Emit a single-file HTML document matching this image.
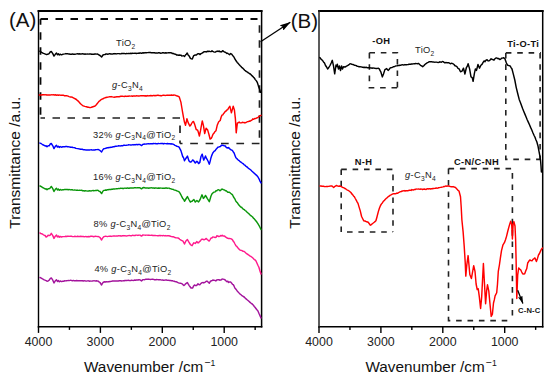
<!DOCTYPE html>
<html><head><meta charset="utf-8"><style>
html,body{margin:0;padding:0;background:#fff;}
#c{position:relative;width:550px;height:379px;overflow:hidden;background:#fff;}
svg{position:absolute;left:0;top:0;}
text{font-family:"Liberation Sans", sans-serif;}
</style></head><body><div id="c">
<svg width="550" height="379" viewBox="0 0 550 379">
<defs>
<marker id="ah" viewBox="0 0 11 6.4" refX="10.6" refY="3.2" markerWidth="11" markerHeight="6.4" markerUnits="userSpaceOnUse" orient="auto">
<path d="M0,0 L11,3.2 L0,6.4 L1.8,3.2 z" fill="#000"/>
</marker>
<marker id="ah2" viewBox="0 0 8 4.8" refX="7.6" refY="2.4" markerWidth="8" markerHeight="4.8" markerUnits="userSpaceOnUse" orient="auto">
<path d="M0,0 L8,2.4 L0,4.8 L1.2,2.4 z" fill="#000"/>
</marker>
</defs>
<!-- frames -->
<g fill="none" stroke="#000" stroke-linecap="square">
<path d="M38.5,11 H261.6" stroke-width="1.9"/>
<path d="M38.5,326.7 H261.6" stroke-width="1.5"/>
<path d="M38.5,11 V326.7" stroke-width="1.4"/>
<path d="M261.6,11 V326.7" stroke-width="1.5"/>
<path d="M319,11 H542.7" stroke-width="1.9"/>
<path d="M319,326.7 H542.7" stroke-width="1.5"/>
<path d="M319,11 V326.7" stroke-width="1.5" stroke="#262626"/>
<path d="M542.7,11 V326.7" stroke-width="1.5"/>
</g>
<g stroke="#000" stroke-width="1.4">
<line x1="38.50" y1="326.7" x2="38.50" y2="332.9" /><line x1="100.40" y1="326.7" x2="100.40" y2="332.9" /><line x1="162.30" y1="326.7" x2="162.30" y2="332.9" /><line x1="224.20" y1="326.7" x2="224.20" y2="332.9" /><line x1="69.45" y1="326.7" x2="69.45" y2="329.9" /><line x1="131.35" y1="326.7" x2="131.35" y2="329.9" /><line x1="193.25" y1="326.7" x2="193.25" y2="329.9" /><line x1="255.15" y1="326.7" x2="255.15" y2="329.9" />
<line x1="319.00" y1="326.7" x2="319.00" y2="332.9" /><line x1="380.90" y1="326.7" x2="380.90" y2="332.9" /><line x1="442.80" y1="326.7" x2="442.80" y2="332.9" /><line x1="504.70" y1="326.7" x2="504.70" y2="332.9" /><line x1="349.95" y1="326.7" x2="349.95" y2="329.9" /><line x1="411.85" y1="326.7" x2="411.85" y2="329.9" /><line x1="473.75" y1="326.7" x2="473.75" y2="329.9" /><line x1="535.65" y1="326.7" x2="535.65" y2="329.9" />
</g>
<!-- dashed boxes -->
<g fill="none" stroke="#222" stroke-width="1.7" stroke-dasharray="7.5 7.5">
<path d="M40.5,19 H257.5" stroke="#0a0a0a" stroke-width="1.9"/>
<path d="M259.5,19 V143.5" stroke-dashoffset="8.7"/>
<path d="M259.5,143.5 H180" stroke-dasharray="7.7 7.7"/>
<path d="M180,143.5 V118" stroke-dashoffset="4.6"/>
<path d="M180,118 H40.5"/>
<path d="M40.5,118 V19" stroke-dashoffset="11.8" stroke="#0a0a0a" stroke-width="1.8"/>
</g>
<g fill="none" stroke="#222" stroke-width="1.6" stroke-dasharray="5.6 5.8">
<path d="M369.4,52.8 H397.4 V87.7"/><path d="M369.4,52.8 V87.7 H397.4"/>
<path d="M505.8,52.9 H540.1 V159.4"/><path d="M505.8,52.9 V159.4 H540.1"/>
<path d="M341.2,169.4 H393 V232"/><path d="M341.2,169.4 V232 H393"/>
<path d="M448.5,168.6 H512.4 V320.6"/><path d="M448.5,168.6 V320.6 H512.4"/>
</g>
<!-- curves -->
<g fill="none" stroke-width="1.45" stroke-linejoin="round" stroke-linecap="round">
<polyline stroke="#000" points="39.9,51.2 40.8,51.8 41.7,52.4 42.5,52.8 43.4,53.4 44.2,53.6 45.4,54.1 46.6,54.6 47.4,54.3 48.3,54.1 49.1,53.6 50.2,52.0 51.3,51.5 52.8,53.6 54.0,56.1 55.3,54.3 56.5,53.0 57.4,54.8 58.4,53.8 59.3,55.0 60.2,54.2 61.5,54.8 62.7,54.3 63.7,54.1 64.8,53.9 65.8,53.6 66.6,53.8 67.5,53.7 68.3,53.9 69.2,53.9 70.0,54.2 70.8,54.3 71.7,54.3 72.5,53.9 73.3,54.3 74.2,54.3 75.0,54.2 75.8,54.1 76.7,53.9 77.5,53.8 78.3,54.0 79.2,53.8 80.0,54.0 80.8,53.9 81.7,53.9 82.5,53.8 83.3,54.0 84.2,54.0 85.0,54.2 85.8,54.0 86.7,54.1 87.5,54.0 88.3,54.1 89.2,54.0 90.0,54.0 90.8,53.9 91.6,54.3 92.4,54.3 93.2,54.2 94.0,54.2 94.8,54.0 95.6,54.0 96.4,54.1 97.2,54.0 98.0,54.2 99.0,55.0 100.0,55.5 101.6,57.0 103.0,55.0 104.0,54.6 105.0,54.5 106.0,54.0 106.8,53.9 107.6,54.2 108.5,54.1 109.3,53.7 110.1,53.8 110.9,54.1 111.7,53.9 112.5,54.1 113.4,53.8 114.2,53.6 115.0,53.8 115.8,53.8 116.7,53.9 117.5,53.6 118.3,53.6 119.2,53.6 120.0,53.9 120.8,53.8 121.7,53.5 122.5,53.5 123.3,53.5 124.2,53.4 125.0,53.6 125.8,53.7 126.7,53.4 127.5,53.6 128.3,53.5 129.2,53.4 130.0,53.6 130.8,53.3 131.7,53.5 132.5,53.3 133.3,53.4 134.2,53.3 135.0,53.4 135.8,53.2 136.6,53.5 137.4,53.4 138.2,53.1 139.1,53.3 139.9,53.0 140.7,53.0 141.5,53.2 142.3,53.0 143.1,52.7 143.9,53.1 144.8,52.7 145.6,52.6 146.4,52.8 147.2,52.6 148.0,52.6 148.8,52.5 149.6,52.5 150.4,52.5 151.2,52.7 152.0,52.6 152.8,52.8 153.6,52.7 154.4,52.8 155.2,53.0 156.0,52.9 156.8,52.9 157.6,53.1 158.4,52.8 159.2,52.8 160.0,53.0 160.8,53.2 161.7,53.1 162.5,52.8 163.3,52.8 164.2,53.0 165.0,53.0 165.8,52.7 166.7,53.0 167.5,52.9 168.3,52.8 169.2,52.7 170.0,52.7 170.8,52.7 171.6,52.9 172.4,53.6 173.2,53.5 174.0,53.8 174.9,54.2 175.8,54.3 176.7,55.1 177.6,55.0 178.4,55.2 179.2,55.0 180.0,55.3 180.9,55.1 181.8,56.0 182.7,55.9 183.6,55.7 184.6,56.5 185.5,55.0 186.3,54.2 187.2,53.0 188.1,54.9 189.1,55.9 190.4,58.4 191.4,58.9 192.3,59.1 193.5,55.9 194.4,55.2 195.4,55.0 196.4,55.0 197.4,54.0 198.2,53.8 199.1,53.8 199.9,54.6 201.0,53.6 202.0,53.1 203.1,52.5 203.9,51.8 204.8,51.8 205.6,51.8 206.5,51.9 207.3,51.2 208.2,51.5 209.1,51.2 210.1,51.6 211.1,51.6 212.0,50.8 212.8,51.4 213.7,51.9 214.5,52.1 215.4,52.1 216.4,51.4 217.4,51.1 218.3,51.5 219.2,50.9 220.0,51.9 220.9,51.6 221.7,51.9 222.6,50.7 223.4,51.2 224.3,51.9 225.1,52.2 226.0,52.7 226.8,53.4 227.7,53.3 228.5,54.0 229.6,54.7 230.6,53.6 231.7,54.2 232.6,55.4 233.6,56.5 234.5,58.1 235.3,59.7 236.2,61.0 237.2,62.4 238.3,63.6 239.3,64.8 240.2,65.8 241.0,66.5 241.9,67.6 242.8,68.2 243.8,69.2 244.7,70.2 245.6,70.9 246.5,71.7 247.5,72.1 248.4,72.9 249.4,73.5 250.3,74.0 251.1,74.8 251.9,75.7 252.7,76.3 253.5,77.2 254.3,78.0 255.3,79.6 256.4,80.9 257.4,82.7 258.4,85.9 259.5,89.0 260.6,92.2"/>
<polyline stroke="#ff0000" points="39.3,94.9 40.1,94.9 40.9,95.0 41.7,95.0 42.6,94.7 43.4,94.7 44.2,94.8 45.0,94.9 45.9,94.8 46.7,95.0 47.6,95.0 48.5,94.9 49.4,94.9 50.2,95.0 51.1,94.9 51.9,94.8 52.7,94.9 53.5,94.8 54.4,95.1 55.2,94.8 56.0,95.0 56.8,95.2 57.6,94.9 58.4,95.2 59.2,95.0 60.0,95.1 60.8,95.3 61.6,95.2 62.5,95.1 63.3,95.2 64.2,95.7 65.0,95.6 66.0,95.8 67.1,95.8 68.1,96.2 69.1,96.6 70.0,96.9 71.0,96.9 72.2,97.2 73.3,97.8 74.4,98.4 75.5,99.0 76.4,99.5 77.3,100.4 78.2,101.1 79.0,102.0 80.5,103.7 82.0,105.0 83.2,105.9 84.8,106.4 85.6,106.6 86.4,106.7 88.0,107.2 88.8,107.3 89.7,107.6 90.6,107.5 91.4,107.3 93.0,106.7 94.4,106.3 95.6,105.6 96.9,104.0 98.2,102.4 99.1,101.3 100.0,100.6 101.0,99.7 102.1,99.1 103.0,98.8 104.0,98.2 105.0,97.8 106.1,97.5 107.0,97.3 108.0,97.1 109.0,96.9 109.9,96.7 110.8,96.7 111.6,96.6 112.5,96.9 113.3,97.1 114.2,97.2 115.0,97.0 115.8,97.0 116.7,96.8 117.5,96.7 118.3,96.8 119.2,96.7 120.0,96.5 120.8,96.3 121.7,96.3 122.5,96.3 123.3,96.4 124.2,96.5 125.0,96.3 125.8,96.1 126.7,96.4 127.5,96.2 128.3,96.2 129.2,96.0 130.0,96.1 130.8,96.1 131.7,96.0 132.5,96.2 133.3,95.9 134.2,96.0 135.0,95.9 135.8,96.1 136.7,95.8 137.5,95.9 138.3,95.9 139.2,96.0 140.0,95.9 140.8,95.7 141.7,95.8 142.5,95.7 143.3,95.7 144.2,95.8 145.0,96.0 145.8,95.8 146.7,96.0 147.5,95.6 148.3,95.9 149.2,95.7 150.0,95.7 150.8,95.5 151.7,95.8 152.5,95.8 153.3,95.4 154.2,95.5 155.0,95.7 155.8,95.5 156.7,95.5 157.5,95.3 158.3,95.3 159.2,95.6 160.0,95.5 160.8,95.7 161.6,95.7 162.4,95.4 163.2,95.2 164.0,95.3 164.8,95.4 165.6,95.4 166.4,95.3 167.2,95.1 168.0,95.2 168.9,95.2 169.7,95.1 170.6,95.2 171.4,95.0 172.3,95.3 173.1,95.2 174.0,95.0 174.8,95.1 175.7,95.4 176.5,95.9 177.3,96.0 178.2,96.3 179.2,96.8 180.1,99.6 180.9,102.1 181.8,107.5 182.7,112.8 183.6,117.8 184.5,122.3 185.5,125.3 186.9,118.8 188.3,122.9 189.9,126.1 190.8,125.1 191.6,123.5 192.5,122.0 193.4,121.4 194.6,124.1 196.2,129.5 197.6,130.1 198.5,132.7 199.4,136.0 200.5,130.7 201.4,125.5 202.3,120.9 203.5,125.9 204.7,133.6 206.1,128.3 207.7,130.1 208.9,134.2 210.1,139.0 211.2,138.4 212.1,136.6 213.0,134.2 213.9,133.3 214.8,131.8 216.0,130.7 217.2,125.3 218.7,121.7 220.2,120.5 221.1,117.3 221.9,115.2 222.8,114.8 223.7,113.4 224.5,112.5 225.3,111.4 226.1,111.0 226.9,109.9 227.7,109.7 228.5,108.1 229.9,106.3 231.4,112.8 232.3,109.6 233.2,106.3 234.4,109.9 235.4,118.8 236.2,132.8 237.4,122.9 238.3,122.7 239.2,122.1 240.0,122.8 240.8,122.9 241.6,122.7 242.4,122.3 243.2,122.6 244.0,122.5 244.9,122.9 245.8,122.5 246.6,122.1 247.5,121.6 248.4,121.6 249.3,121.0 250.1,121.2 251.0,120.5 251.9,120.1 252.8,118.8 253.8,119.3 254.7,118.5 255.5,118.6 256.4,118.1 257.2,117.8 258.1,117.4 258.9,116.4 259.9,115.9 261.0,115.3"/>
<polyline stroke="#0000ff" points="39.9,143.1 40.8,143.4 41.7,144.0 42.5,144.5 43.4,145.0 44.2,145.4 45.1,146.0 46.1,145.8 47.0,146.8 48.1,145.8 49.2,145.8 50.2,144.0 51.3,143.5 52.8,145.8 54.0,148.6 55.3,146.4 56.5,145.3 57.4,147.1 58.4,146.2 59.3,147.4 60.2,146.6 61.5,147.2 62.7,146.8 63.7,146.6 64.8,146.7 65.8,146.5 66.6,146.4 67.4,146.7 68.2,146.7 69.0,146.9 69.8,147.0 70.6,147.3 71.4,147.3 72.2,147.2 73.0,147.5 73.8,147.6 74.7,147.7 75.5,148.2 76.3,148.4 77.2,148.6 78.0,148.6 78.8,148.9 79.7,149.0 80.5,149.2 81.3,149.3 82.2,149.2 83.0,149.5 83.8,149.7 84.7,149.7 85.5,149.9 86.3,149.9 87.2,149.9 88.0,150.0 88.8,149.9 89.7,150.0 90.5,149.9 91.3,149.8 92.2,150.1 93.0,150.0 93.8,150.0 94.7,150.0 95.5,149.8 96.3,149.6 97.2,149.6 98.0,149.4 99.0,149.8 100.0,150.5 101.6,152.0 103.0,149.5 104.0,148.6 104.9,148.5 105.7,148.3 106.6,148.0 107.4,147.8 108.3,147.8 109.1,147.5 110.0,147.5 110.8,147.3 111.6,147.2 112.4,147.0 113.2,146.7 114.0,146.7 114.8,146.5 115.6,146.3 116.4,146.2 117.2,146.1 118.0,146.0 118.8,145.7 119.7,145.9 120.5,145.9 121.3,145.6 122.2,145.7 123.0,145.7 123.8,145.2 124.7,145.2 125.5,145.4 126.3,145.3 127.2,145.1 128.0,145.0 128.8,144.8 129.7,144.9 130.5,145.0 131.3,145.0 132.2,144.9 133.0,144.6 133.8,144.9 134.7,144.6 135.5,144.7 136.3,144.4 137.2,144.7 138.0,144.5 139.0,144.5 140.0,144.5 141.5,145.6 143.0,144.3 143.8,144.3 144.7,144.0 145.5,144.1 146.3,144.0 147.2,143.9 148.0,143.8 148.8,143.7 149.6,143.9 150.4,143.7 151.2,143.7 152.0,143.6 152.8,143.8 153.6,143.5 154.4,143.6 155.2,143.5 156.0,143.7 156.8,143.7 157.6,143.7 158.4,143.4 159.2,143.6 160.0,143.6 160.8,143.5 161.7,143.4 162.5,143.4 163.3,143.9 164.2,143.5 165.0,143.6 165.8,143.6 166.7,143.7 167.5,143.5 168.3,143.7 169.2,143.6 170.0,143.7 171.0,144.0 172.0,143.8 173.0,144.2 174.0,144.7 175.0,145.3 175.8,145.7 176.6,146.2 177.5,146.4 178.3,146.7 179.1,147.1 180.0,148.9 180.9,150.6 181.8,153.5 182.7,156.5 183.6,157.9 184.5,160.7 185.6,158.9 186.5,157.5 187.4,156.0 188.9,160.7 189.9,161.9 191.0,161.9 191.8,161.2 192.7,159.9 193.9,161.0 195.3,163.0 196.9,161.3 197.8,162.1 198.6,163.6 199.8,162.5 201.0,156.5 202.2,154.2 203.7,160.1 204.6,158.3 205.5,156.0 206.3,158.2 207.2,159.5 208.2,161.5 209.3,164.2 210.2,161.1 211.0,157.7 211.9,155.1 212.8,153.0 214.0,151.4 215.2,150.6 216.1,149.2 217.0,148.3 217.8,147.3 218.7,147.1 219.6,146.6 220.5,146.5 221.4,145.3 222.3,145.3 223.4,145.5 224.6,145.9 225.4,145.9 226.2,147.5 227.0,147.7 227.8,148.1 228.6,147.5 229.4,148.5 230.6,149.6 231.7,150.0 232.5,150.6 233.3,152.0 234.1,153.0 235.0,155.4 235.9,157.7 236.8,158.5 237.6,159.5 238.7,160.3 239.8,161.3 240.9,162.1 242.1,163.0 243.0,163.6 243.9,164.6 244.8,165.1 245.7,166.1 246.6,166.6 247.5,167.4 248.4,168.2 249.3,168.9 250.2,169.5 251.1,170.3 252.0,171.2 252.9,172.0 253.8,172.9 254.7,173.5 255.5,174.6 256.4,175.0 257.2,176.1 258.0,177.0 259.0,178.8 260.0,181.1 261.0,182.9"/>
<polyline stroke="#0a960a" points="39.9,186.0 40.8,186.3 41.7,186.9 42.5,187.5 43.4,187.9 44.2,188.3 45.1,189.0 46.1,188.8 47.0,189.7 48.1,188.8 49.2,188.7 50.2,188.0 51.3,186.4 52.8,188.7 54.0,191.5 55.3,189.3 56.5,188.2 57.4,190.0 58.4,189.1 59.3,190.3 60.2,189.5 61.5,190.1 62.7,189.7 63.7,189.7 64.8,189.4 65.8,189.4 66.6,189.5 67.4,189.5 68.2,189.7 69.1,189.5 69.9,189.6 70.7,189.9 71.5,189.8 72.3,189.8 73.1,190.1 73.9,190.1 74.7,189.9 75.6,190.1 76.4,190.3 77.2,190.1 78.0,190.3 78.8,190.4 79.7,190.3 80.5,190.4 81.3,190.3 82.2,190.5 83.0,190.9 83.8,190.7 84.7,191.0 85.5,190.8 86.3,190.9 87.2,191.1 88.0,191.0 88.8,191.0 89.7,190.7 90.5,190.9 91.3,190.9 92.2,190.6 93.0,190.5 93.8,190.8 94.7,190.6 95.5,190.4 96.3,190.5 97.2,190.3 98.0,190.4 99.0,191.1 100.0,191.5 101.6,193.6 103.0,191.0 104.0,190.4 104.9,190.3 105.7,190.0 106.6,190.2 107.4,189.7 108.3,189.7 109.1,189.4 110.0,189.5 110.8,189.5 111.6,189.2 112.4,189.2 113.2,189.0 114.0,189.0 114.8,189.0 115.6,188.9 116.4,188.8 117.2,188.7 118.0,188.6 118.8,188.5 119.6,188.6 120.4,188.3 121.2,188.4 122.0,188.3 122.8,188.5 123.6,188.5 124.4,188.1 125.2,188.1 126.0,188.3 126.8,188.2 127.6,187.9 128.4,188.2 129.2,188.2 130.0,188.0 130.8,187.9 131.7,187.9 132.5,188.0 133.3,188.1 134.2,187.8 135.0,187.8 135.8,187.7 136.7,187.9 137.5,187.8 138.3,187.7 139.2,187.8 140.0,187.8 141.5,188.8 143.0,187.7 143.8,187.5 144.7,187.7 145.5,188.1 146.3,187.9 147.2,187.9 148.0,188.0 148.8,188.2 149.6,187.9 150.4,187.9 151.2,187.8 152.0,187.9 152.8,187.9 153.6,187.9 154.4,188.2 155.2,187.9 156.0,187.9 156.8,188.1 157.6,188.2 158.4,188.0 159.3,188.2 160.1,188.0 160.9,188.1 161.7,188.1 162.5,188.3 163.3,188.2 164.1,188.1 164.9,188.2 165.7,188.0 166.5,188.0 167.3,188.3 168.1,188.1 168.9,188.1 169.8,188.5 170.6,188.6 171.5,189.1 172.4,189.3 173.3,189.4 174.1,190.0 175.0,190.1 175.8,190.4 176.6,190.7 177.5,191.1 178.3,191.4 179.1,191.9 180.0,193.2 180.9,194.8 181.8,196.7 182.7,198.4 183.6,199.3 184.5,201.3 185.9,199.0 187.4,196.6 188.9,199.5 190.4,202.1 191.2,201.4 192.1,201.3 193.0,200.3 193.9,199.5 195.3,202.1 196.9,200.5 197.8,201.3 198.6,201.9 200.1,199.5 201.1,197.0 202.0,194.8 203.4,198.4 204.4,197.3 205.5,195.4 206.3,196.6 207.2,198.4 208.2,199.9 209.3,201.7 210.2,198.7 211.0,196.0 211.9,194.0 212.8,193.0 214.0,192.1 215.2,191.9 216.0,190.7 216.8,190.9 217.6,189.9 218.8,189.8 219.9,190.7 220.7,190.4 221.5,189.2 222.3,189.1 223.4,189.7 224.6,189.9 225.4,190.7 226.2,190.8 227.0,191.5 227.8,192.3 228.6,192.2 229.4,192.2 230.6,193.3 231.7,194.2 232.5,194.8 233.3,196.5 234.1,197.8 235.0,199.2 235.9,201.3 236.8,202.2 237.6,203.1 238.7,204.8 239.8,206.1 240.7,207.0 241.6,207.3 242.4,208.3 243.3,209.1 244.2,209.6 245.1,210.5 246.1,211.1 247.1,212.3 248.0,213.0 248.9,213.8 249.8,214.8 250.8,215.6 251.7,216.3 252.6,217.0 253.4,218.2 254.3,218.8 255.2,220.1 256.0,221.0 257.0,222.3 257.9,223.7 258.9,225.3 259.9,227.3 261.0,229.5"/>
<polyline stroke="#ff1a8c" points="39.9,232.9 40.8,233.6 41.7,233.8 42.5,234.1 43.4,234.8 44.2,235.2 45.1,235.5 46.1,237.0 47.0,236.6 48.1,235.2 49.2,235.6 50.2,235.1 51.3,233.3 52.8,235.6 54.0,238.4 55.3,236.2 56.5,235.1 57.4,236.9 58.4,236.0 59.3,237.2 60.2,236.4 61.5,237.0 62.7,236.6 63.7,236.6 64.8,236.6 65.8,236.3 66.6,236.5 67.5,236.2 68.3,236.3 69.1,236.4 70.0,236.3 70.8,236.3 71.6,236.3 72.5,236.6 73.3,236.6 74.2,236.5 75.0,236.3 75.8,236.6 76.7,236.5 77.5,236.3 78.3,236.5 79.2,236.5 80.0,236.5 80.8,236.3 81.7,236.5 82.5,236.4 83.3,236.5 84.2,236.7 85.0,236.6 85.8,236.5 86.7,236.7 87.5,236.7 88.3,236.5 89.2,236.7 90.0,236.5 90.8,236.3 91.6,236.3 92.4,236.3 93.2,236.7 94.0,236.5 94.8,236.5 95.6,236.3 96.4,236.4 97.2,236.6 98.0,236.4 99.0,236.8 100.0,237.5 101.6,240.0 103.0,237.5 104.0,236.6 104.8,236.4 105.7,236.3 106.5,236.4 107.4,236.6 108.2,236.4 109.1,236.3 109.9,236.3 110.8,236.1 111.6,236.4 112.5,236.1 113.3,236.0 114.2,236.0 115.0,236.0 115.8,236.1 116.7,235.9 117.5,236.1 118.3,235.8 119.2,235.9 120.0,235.7 120.8,236.0 121.7,236.0 122.5,235.8 123.3,235.6 124.2,235.8 125.0,235.7 125.8,235.9 126.7,235.9 127.5,235.8 128.3,235.6 129.2,235.4 130.0,235.6 130.8,235.7 131.7,235.7 132.5,235.3 133.3,235.4 134.2,235.4 135.0,235.6 135.8,235.1 136.7,235.1 137.5,235.4 138.3,235.2 139.2,235.1 140.0,235.1 141.5,236.1 143.0,234.9 143.8,235.1 144.7,235.1 145.5,235.2 146.3,235.1 147.2,235.1 148.0,235.3 148.8,235.1 149.6,235.3 150.4,235.4 151.2,235.3 152.0,235.3 152.8,235.5 153.6,235.5 154.4,235.5 155.2,235.4 156.0,235.6 156.8,235.6 157.6,235.7 158.4,235.7 159.3,235.4 160.1,235.7 160.9,235.5 161.7,235.6 162.5,235.7 163.3,235.5 164.1,235.6 164.9,235.9 165.7,235.6 166.5,235.9 167.3,235.8 168.1,235.7 168.9,235.8 169.8,236.0 170.6,236.3 171.5,236.6 172.4,236.7 173.3,236.8 174.1,237.1 175.0,237.5 176.0,237.8 177.0,237.9 178.0,238.0 178.8,238.4 179.7,239.2 180.6,239.9 181.5,240.4 183.0,241.2 184.5,244.0 185.9,241.0 187.4,239.5 188.9,242.2 190.4,244.5 191.2,245.2 192.1,245.7 193.0,244.0 193.9,242.8 195.3,243.4 196.9,241.6 197.8,242.8 198.6,242.8 199.5,241.4 200.4,241.0 201.3,239.5 202.2,239.2 203.1,239.3 204.0,239.8 205.0,239.4 206.0,238.4 207.5,239.8 208.4,240.5 209.3,241.0 210.2,239.5 211.0,238.0 211.9,238.0 212.8,236.9 214.0,237.1 215.2,237.5 216.0,237.4 216.8,235.8 217.6,236.0 218.8,236.5 219.9,236.3 220.7,235.5 221.5,235.9 222.3,235.3 223.4,236.1 224.6,236.0 225.4,236.9 226.2,237.4 227.0,238.0 227.8,238.2 228.6,238.6 229.4,238.4 230.6,238.6 231.7,239.2 232.5,239.8 233.3,241.3 234.1,242.2 235.0,244.0 235.9,245.7 236.8,246.4 237.6,247.5 238.7,248.7 239.8,249.9 240.7,250.2 241.6,250.4 242.4,251.0 243.3,251.3 244.2,251.5 245.1,252.2 246.1,253.2 247.1,254.0 248.0,254.5 248.9,255.2 249.8,255.8 250.8,256.4 251.7,257.0 252.6,257.8 253.4,258.5 254.3,259.6 255.2,260.0 256.0,261.0 257.0,263.2 257.9,265.2 258.9,267.2 259.9,270.7 261.0,274.0"/>
<polyline stroke="#a3139c" points="39.9,277.5 40.8,277.9 41.7,278.4 42.5,278.9 43.4,279.3 44.2,279.8 45.1,280.2 46.1,280.6 47.0,281.2 48.1,281.0 49.2,280.2 50.2,278.6 51.3,277.9 52.8,280.2 54.0,283.0 55.3,280.8 56.5,279.7 57.4,281.5 58.4,280.6 59.3,281.8 60.2,281.0 61.5,281.6 62.7,281.2 63.7,281.2 64.8,280.8 65.8,280.9 66.6,280.7 67.5,280.6 68.3,280.4 69.2,280.6 70.0,280.4 70.8,280.3 71.7,280.6 72.5,280.7 73.3,280.4 74.2,280.7 75.0,280.7 75.8,280.7 76.7,280.5 77.5,280.7 78.3,280.8 79.2,280.7 80.0,280.8 80.8,280.7 81.7,280.7 82.5,280.7 83.3,281.0 84.2,280.8 85.0,280.9 85.8,281.0 86.7,281.1 87.5,280.9 88.3,280.8 89.2,281.2 90.0,281.0 90.8,281.1 91.6,281.1 92.4,281.0 93.2,280.9 94.0,280.8 94.8,280.9 95.6,281.0 96.4,280.8 97.2,281.1 98.0,281.0 99.0,281.9 100.0,282.5 101.6,285.0 103.0,282.5 104.0,282.0 104.8,281.7 105.7,282.0 106.5,281.8 107.4,281.9 108.2,281.6 109.1,281.7 109.9,281.4 110.8,281.4 111.6,281.3 112.5,281.0 113.3,281.0 114.2,281.0 115.0,281.0 115.8,280.9 116.7,280.9 117.5,280.9 118.3,281.0 119.2,280.8 120.0,280.8 120.8,280.8 121.7,281.0 122.5,280.9 123.3,280.8 124.2,280.8 125.0,280.5 125.8,280.5 126.7,280.4 127.5,280.4 128.3,280.3 129.2,280.6 130.0,280.5 130.8,280.6 131.6,280.2 132.4,280.4 133.2,280.5 134.0,280.4 134.8,280.0 135.6,280.2 136.4,280.0 137.2,279.9 138.0,280.0 139.0,279.7 140.0,279.9 141.5,280.9 143.0,279.6 143.8,279.6 144.7,279.7 145.5,279.3 146.3,279.2 147.2,279.3 148.0,279.3 148.8,279.1 149.6,279.4 150.4,279.5 151.2,279.4 152.0,279.3 152.8,279.3 153.6,279.4 154.4,279.7 155.2,279.8 156.0,279.7 156.8,279.5 157.6,279.6 158.4,279.8 159.3,279.7 160.1,279.7 160.9,279.9 161.7,280.1 162.5,279.9 163.3,280.2 164.1,280.2 164.9,280.1 165.7,280.0 166.5,280.0 167.3,280.3 168.1,280.4 168.9,280.3 169.8,280.6 170.6,280.5 171.5,280.8 172.4,280.8 173.3,281.1 174.1,281.2 175.0,281.5 176.0,281.7 177.0,282.0 178.0,282.6 179.2,283.1 180.3,283.2 181.2,283.4 182.1,283.8 183.0,284.7 183.9,285.6 184.8,284.7 185.6,283.8 186.5,283.2 187.4,282.6 188.3,284.2 189.2,285.6 190.1,286.8 191.0,288.0 191.8,288.0 192.7,288.0 193.6,285.9 194.5,285.0 195.4,285.5 196.3,285.6 197.2,284.9 198.0,283.8 198.9,284.6 199.8,284.8 201.0,283.4 202.2,282.6 203.0,282.5 203.8,282.9 204.6,282.4 205.4,282.1 206.3,281.2 207.3,281.2 208.3,282.3 209.3,283.2 210.2,281.6 211.0,280.9 211.9,280.7 212.8,280.0 213.8,280.2 214.8,280.4 215.8,280.9 216.9,279.9 218.1,279.7 218.9,279.7 219.7,280.2 220.5,280.0 221.3,279.9 222.1,279.0 222.9,279.1 224.1,279.4 225.2,280.0 226.1,281.0 227.0,281.7 227.8,281.2 228.6,282.5 229.4,282.0 230.6,281.9 231.7,283.2 232.5,284.4 233.3,284.7 234.1,286.2 235.0,288.3 235.9,289.1 236.8,290.4 237.6,291.5 238.7,292.6 239.8,293.9 240.7,294.5 241.6,295.3 242.4,295.9 243.3,296.5 244.2,297.0 245.1,297.9 246.1,298.9 247.1,299.8 248.0,300.5 248.9,301.3 249.8,302.1 250.8,303.0 251.7,303.6 252.6,304.4 253.5,305.3 254.3,306.5 255.2,307.5 256.1,308.7 256.9,309.8 257.8,310.7 258.9,313.3 259.9,315.4 261.0,318.0"/>
<polyline stroke="#000" points="319.8,57.5 321.0,59.1 322.3,60.2 323.5,61.9 324.5,63.0 325.5,65.5 326.6,67.0 327.6,69.0 328.8,67.5 330.0,65.5 331.2,63.0 332.3,60.3 333.5,65.9 334.7,73.8 336.0,65.1 336.7,66.5 337.3,64.3 338.5,69.0 339.5,65.9 340.5,70.6 341.6,65.9 342.5,69.0 343.5,66.7 345.0,67.0 346.0,66.5 347.0,65.9 348.0,65.3 349.0,64.7 350.0,63.8 351.0,63.9 351.9,64.4 352.9,64.5 353.8,64.9 354.7,65.3 355.5,65.4 356.4,65.7 357.3,66.3 358.1,66.4 359.0,66.7 359.8,66.6 360.6,66.8 361.4,66.9 362.3,67.2 363.1,67.2 363.9,67.5 364.8,67.3 365.6,67.6 366.4,67.3 367.2,67.7 368.1,67.8 368.9,67.7 369.7,67.6 370.6,67.9 371.4,67.9 372.2,68.2 373.0,67.9 373.9,68.1 374.7,68.2 375.6,68.4 376.5,68.4 377.3,68.4 378.2,68.3 379.1,68.6 380.0,70.4 380.8,71.8 382.3,76.9 383.5,74.0 384.9,69.6 385.8,69.1 386.7,68.6 388.1,70.4 389.1,69.5 390.0,68.2 390.9,67.7 391.8,67.6 392.7,67.2 393.6,66.7 394.5,66.6 395.5,66.0 396.4,65.9 397.3,65.7 398.1,65.4 399.0,65.5 399.9,65.2 400.7,65.3 401.5,64.9 402.4,64.8 403.2,64.9 404.1,64.9 404.9,64.6 405.7,64.7 406.5,64.8 407.4,64.6 408.2,64.5 409.0,64.3 409.9,64.2 410.7,64.3 411.5,64.0 412.3,64.0 413.2,63.9 414.0,63.8 414.9,63.7 415.8,63.5 416.6,63.6 417.5,63.7 418.4,63.4 419.4,64.3 420.5,65.3 421.6,65.9 422.7,66.7 423.8,65.8 424.9,64.5 426.0,63.7 427.1,62.8 428.1,62.3 429.0,61.8 430.0,61.6 430.8,61.8 431.6,61.7 432.4,61.9 433.2,61.9 434.1,62.1 434.9,62.2 435.7,62.1 436.5,62.1 437.3,62.4 438.1,62.5 439.0,62.4 439.8,61.8 440.6,62.1 441.4,62.2 442.3,61.5 443.1,61.6 444.1,62.3 445.0,63.0 446.0,62.4 446.9,62.8 447.8,62.8 448.6,62.7 449.5,63.1 450.4,63.8 451.3,63.3 452.2,63.4 453.1,63.8 454.0,64.5 455.0,65.8 455.9,66.0 456.9,66.7 458.0,68.3 459.1,68.9 460.5,71.8 462.0,71.1 463.5,68.2 464.9,74.0 466.4,67.5 467.2,66.4 468.1,63.8 469.6,68.9 471.0,76.9 472.2,77.6 473.1,81.3 474.4,73.3 475.4,68.9 476.5,70.4 478.0,64.5 479.5,68.2 480.9,65.3 482.0,64.4 483.1,62.4 484.1,60.9 485.0,61.7 486.0,60.2 487.1,59.8 488.2,60.9 489.2,60.7 490.1,60.0 491.1,58.7 492.1,59.5 493.0,59.5 494.0,60.2 495.0,58.7 495.9,58.0 496.9,58.0 497.9,58.7 498.8,58.5 499.8,59.5 500.8,59.1 501.7,58.1 502.7,58.0 503.8,57.7 504.9,58.7 506.4,63.1 507.8,65.3 509.0,65.6 510.2,66.0 511.1,67.6 512.0,69.0 513.2,73.6 514.8,80.0 516.2,87.3 517.7,93.5 519.2,99.4 520.4,102.4 521.5,105.5 522.6,108.5 523.8,111.5 524.9,114.1 526.0,116.8 527.1,119.5 528.3,122.1 529.5,124.8 530.6,127.4 531.8,130.0 532.9,132.7 534.0,135.2 535.0,137.3 535.9,139.7 536.8,141.8 538.0,146.0 538.9,150.9 539.8,155.5 540.5,160.0 541.0,166.0 541.4,172.0"/>
<polyline stroke="#ff0000" points="320.0,185.9 320.9,185.9 321.8,186.2 322.6,186.2 323.5,186.2 324.4,186.5 325.3,186.6 326.2,186.5 327.1,186.4 328.1,186.4 329.0,186.3 329.9,186.1 330.9,185.9 331.8,185.9 332.8,186.7 333.7,187.4 334.5,186.7 335.4,186.2 336.2,185.5 337.1,185.8 337.9,186.0 338.8,186.2 339.6,186.0 340.5,186.3 341.4,186.6 342.2,187.2 343.1,187.6 343.9,187.8 344.8,188.5 345.6,188.8 346.5,189.5 347.4,190.1 348.2,190.4 349.1,191.0 350.0,191.7 350.9,192.5 351.8,193.9 352.6,194.6 353.5,195.9 354.4,196.8 355.3,198.5 356.2,200.1 357.1,201.8 358.0,203.4 359.1,207.1 360.2,210.6 361.6,216.5 362.7,218.7 363.8,220.8 364.8,221.0 365.7,221.3 366.7,221.8 368.2,222.3 369.3,223.7 370.4,225.2 371.4,224.7 372.3,223.6 373.3,223.0 374.2,222.3 375.0,221.6 375.9,220.8 376.9,217.2 378.4,211.4 379.4,208.3 380.5,205.5 381.5,203.9 382.5,202.7 383.5,201.2 384.5,200.2 385.4,199.2 386.4,198.3 387.3,197.6 388.2,196.7 389.1,196.2 390.0,195.4 391.0,194.9 391.9,194.4 392.9,193.9 393.7,193.7 394.5,193.8 395.3,193.7 396.1,193.5 396.9,193.1 397.7,193.2 398.6,192.6 399.5,192.2 400.5,191.6 401.4,191.5 402.3,191.0 403.2,190.9 404.1,190.6 405.0,191.0 405.9,190.7 406.8,190.8 407.7,190.7 408.6,190.5 409.5,190.3 410.3,190.2 411.1,190.4 411.9,189.6 412.7,189.9 413.6,189.9 414.4,189.5 415.2,189.6 416.0,189.0 416.8,189.1 417.6,189.1 418.4,189.0 419.2,189.1 420.0,189.3 420.9,189.0 421.7,189.1 422.5,189.5 423.3,189.1 424.1,189.3 424.9,189.0 425.7,189.5 426.5,189.2 427.3,188.7 428.2,189.1 429.0,188.7 429.8,188.7 430.6,189.0 431.4,188.8 432.2,188.8 433.0,188.5 433.8,188.5 434.6,188.4 435.4,188.2 436.2,187.9 437.0,188.2 437.8,188.1 438.6,187.8 439.5,187.6 440.4,187.4 441.2,187.3 442.1,187.1 443.0,186.9 444.0,186.5 444.9,186.5 445.9,185.9 446.8,186.3 447.7,185.9 448.6,186.0 449.5,186.3 450.4,186.6 451.4,186.8 452.3,186.7 453.2,186.6 454.2,187.0 455.1,187.3 456.1,188.1 457.1,189.3 458.0,190.3 459.0,191.0 460.5,196.8 461.2,207.0 461.9,220.0 463.1,231.6 464.2,246.1 465.2,262.1 465.8,276.1 466.8,265.0 468.1,255.6 469.0,265.3 469.8,274.5 471.4,278.5 472.5,272.3 473.7,265.7 475.0,271.3 476.1,284.0 477.2,289.5 478.2,288.7 479.3,296.7 480.6,308.5 481.7,296.7 482.5,280.8 483.4,263.5 484.5,284.0 485.6,303.8 486.7,290.3 487.5,284.8 488.8,291.1 489.9,303.0 491.2,316.4 492.4,314.1 493.5,303.0 494.3,299.9 495.1,295.9 496.7,292.7 497.5,284.0 498.3,271.3 499.4,265.0 500.4,257.8 501.5,250.6 503.0,244.8 504.4,242.7 505.5,239.8 506.6,236.1 507.7,231.5 508.8,227.4 509.8,223.9 510.7,221.3 511.7,224.5 512.4,239.0 513.1,224.5 513.9,221.6 515.0,226.0 515.6,239.0 516.1,260.0 516.8,298.5 517.7,274.8 518.7,267.9 519.7,269.2 520.7,269.8 521.7,272.0 522.7,273.8 523.7,274.1 524.7,273.8 525.7,270.9 526.7,268.8 527.7,263.0 528.8,261.3 529.8,260.0 530.9,260.5 532.0,260.8 533.0,259.4 533.9,258.7 534.9,257.9 536.4,261.5 537.5,258.4 538.5,255.0 539.5,253.5 540.4,251.4 541.4,249.2 542.5,248.0"/>
</g>
<!-- arrows -->
<g stroke="#000" stroke-width="1.3" fill="none">
<line x1="260.6" y1="41.7" x2="290.3" y2="22.2" marker-end="url(#ah)"/>
<line x1="517.7" y1="290.2" x2="522.9" y2="303.4" marker-end="url(#ah2)"/>
</g>
<!-- text -->
<g fill="#222" font-size="12.4">
<text x="38.50" y="346" text-anchor="middle">4000</text><text x="100.40" y="346" text-anchor="middle">3000</text><text x="162.30" y="346" text-anchor="middle">2000</text><text x="224.20" y="346" text-anchor="middle">1000</text>
<text x="319.00" y="346" text-anchor="middle">4000</text><text x="380.90" y="346" text-anchor="middle">3000</text><text x="442.80" y="346" text-anchor="middle">2000</text><text x="504.70" y="346" text-anchor="middle">1000</text>
</g>
<g fill="#111" font-size="15.3">
<text x="84" y="372">Wavenumber /cm<tspan font-size="10.5" x="204.2" y="365.7">&#8722;</tspan><tspan font-size="8.6" x="210.6" y="365.6">1</tspan></text>
<text x="365.4" y="372">Wavenumber /cm<tspan font-size="10.5" x="485.6" y="365.7">&#8722;</tspan><tspan font-size="8.6" x="492" y="365.6">1</tspan></text>
<text transform="translate(19.6,162.7) rotate(-90)" text-anchor="middle" font-size="15.5">Transmittance /a.u.</text>
<text transform="translate(299.6,162.7) rotate(-90)" text-anchor="middle" font-size="15.5">Transmittance /a.u.</text>
</g>
<g fill="#111" font-size="20.5">
<text x="9" y="26.6">(A)</text>
<text x="290.8" y="27.7">(B)</text>
</g>
<g fill="#222" font-size="9.3" letter-spacing="0.3">
<text x="116" y="46">TiO<tspan font-size="6.6" dy="2.6">2</tspan></text>
<text x="112" y="88"><tspan font-style="italic">g</tspan>-C<tspan font-size="6.6" dy="2.6">3</tspan><tspan dy="-2.6">N</tspan><tspan font-size="6.6" dy="2.6">4</tspan></text>
<text x="93" y="137.6">32% <tspan font-style="italic">g</tspan>-C<tspan font-size="6.6" dy="2.6">3</tspan><tspan dy="-2.6">N</tspan><tspan font-size="6.6" dy="2.6">4</tspan><tspan dy="-2.6">@TiO</tspan><tspan font-size="6.6" dy="2.6">2</tspan></text>
<text x="93" y="180.2">16% <tspan font-style="italic">g</tspan>-C<tspan font-size="6.6" dy="2.6">3</tspan><tspan dy="-2.6">N</tspan><tspan font-size="6.6" dy="2.6">4</tspan><tspan dy="-2.6">@TiO</tspan><tspan font-size="6.6" dy="2.6">2</tspan></text>
<text x="93.6" y="227">8% <tspan font-style="italic">g</tspan>-C<tspan font-size="6.6" dy="2.6">3</tspan><tspan dy="-2.6">N</tspan><tspan font-size="6.6" dy="2.6">4</tspan><tspan dy="-2.6">@TiO</tspan><tspan font-size="6.6" dy="2.6">2</tspan></text>
<text x="94.4" y="272.4">4% <tspan font-style="italic">g</tspan>-C<tspan font-size="6.6" dy="2.6">3</tspan><tspan dy="-2.6">N</tspan><tspan font-size="6.6" dy="2.6">4</tspan><tspan dy="-2.6">@TiO</tspan><tspan font-size="6.6" dy="2.6">2</tspan></text>
<text x="415" y="53">TiO<tspan font-size="6.6" dy="2.6">2</tspan></text>
<text x="405" y="178.1"><tspan font-style="italic">g</tspan>-C<tspan font-size="6.6" dy="2.6">3</tspan><tspan dy="-2.6">N</tspan><tspan font-size="6.6" dy="2.6">4</tspan></text>
</g>
<g fill="#111" font-weight="bold" font-size="9.3" letter-spacing="0.35">
<text x="372.2" y="44.2">-OH</text>
<text x="507.2" y="47.2">Ti-O-Ti</text>
<text x="354.8" y="164.9">N-H</text>
<text x="454" y="164.6">C-N/C-NH</text>
<text x="518" y="312.8" font-size="7.6" letter-spacing="0.2">C-N-C</text>
</g>
</svg>
</div></body></html>
